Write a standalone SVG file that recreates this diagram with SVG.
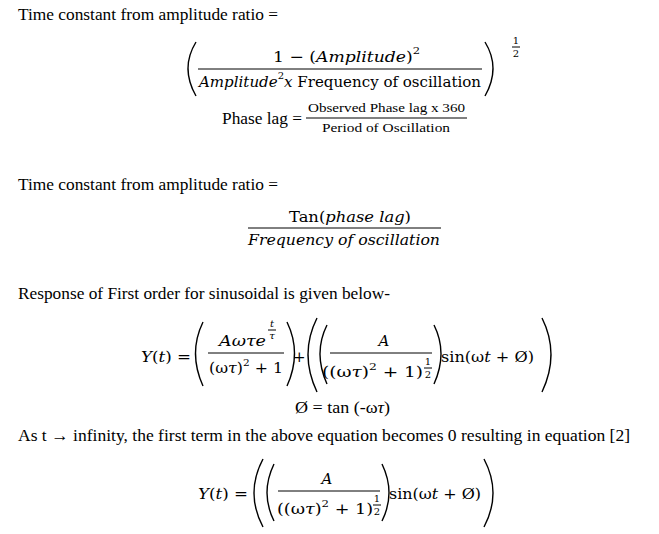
<svg xmlns="http://www.w3.org/2000/svg" width="659" height="534" viewBox="0 0 659 534">
<style>
text{font-family:"Liberation Serif","DejaVu Serif",serif;font-size:17px;fill:#000}
.m{font-family:"DejaVu Serif","Liberation Serif",serif;font-size:15px}
.i{font-style:italic}
.s{font-size:10px}
.sm{font-size:13px}
.c{text-anchor:middle}
.f{stroke:#000;stroke-width:1;fill:none}
.p{stroke:#000;stroke-width:1.4;fill:none}
</style>
<rect width="659" height="534" fill="#fff"/>
<g id="t1"><text x="18" y="20" textLength="260" lengthAdjust="spacingAndGlyphs">Time constant from amplitude ratio =</text></g>
<g id="eq1">
<text class="m" x="273" y="62" textLength="147" lengthAdjust="spacingAndGlyphs">1 − (<tspan class="i">Amplitude</tspan>)<tspan class="s" dy="-8">2</tspan></text>
<line class="f" x1="198" y1="69" x2="482" y2="69"/>
<text class="m" x="199" y="87" textLength="282" lengthAdjust="spacingAndGlyphs"><tspan class="i">Amplitude</tspan><tspan class="s" dy="-8">2</tspan><tspan class="i" dy="8">x</tspan> Frequency of oscillation</text>
<path class="p" d="M196,42 Q180,68 196,96"/><path class="p" d="M485,42 Q501,68 485,96"/>
<text class="s c m" x="516" y="44">1</text><line class="f" x1="512" y1="47" x2="520" y2="47"/><text class="s c m" x="516" y="57">2</text>
</g>
<g id="eq2">
<text x="222" y="124" textLength="80" lengthAdjust="spacingAndGlyphs">Phase lag =</text>
<text class="sm" x="308" y="112" textLength="157" lengthAdjust="spacingAndGlyphs">Observed Phase lag x 360</text>
<line class="f" x1="306" y1="118" x2="467" y2="118"/>
<text class="sm" x="322" y="132" textLength="128" lengthAdjust="spacingAndGlyphs">Period of Oscillation</text>
</g>
<g id="t2"><text x="18" y="190" textLength="260" lengthAdjust="spacingAndGlyphs">Time constant from amplitude ratio =</text></g>
<g id="eq3">
<text class="m" x="289" y="222" textLength="122" lengthAdjust="spacingAndGlyphs">Tan(<tspan class="i">phase lag</tspan>)</text>
<line class="f" x1="248" y1="228" x2="441" y2="228"/>
<text class="m i" x="248" y="245" textLength="192" lengthAdjust="spacingAndGlyphs">Frequency of oscillation</text>
</g>
<g id="t3"><text x="18" y="299" textLength="372" lengthAdjust="spacingAndGlyphs">Response of First order for sinusoidal is given below-</text></g>
<g id="eq4">
<text class="m" x="141" y="362" textLength="50" lengthAdjust="spacingAndGlyphs"><tspan class="i">Y</tspan>(<tspan class="i">t</tspan>) =</text>
<path class="p" d="M203,322 Q188,353 203,386"/>
<text class="m i" x="219" y="346" textLength="47" lengthAdjust="spacingAndGlyphs">Aωτe</text>
<text class="s c m i" x="272" y="327">t</text><line class="f" x1="268" y1="330" x2="276" y2="330"/><text class="s c m i" x="272" y="339">τ</text>
<line class="f" x1="208" y1="353" x2="284" y2="353"/>
<text class="m" x="209" y="373" textLength="74" lengthAdjust="spacingAndGlyphs">(ω<tspan class="i">τ</tspan>)<tspan class="s" dy="-7">2</tspan><tspan dy="7"> + 1</tspan></text>
<path class="p" d="M287,322 Q302,353 287,386"/>
<text class="m" x="293" y="362">+</text>
<path class="p" d="M317,318 Q299,354 317,392"/>
<path class="p" d="M327,325 Q313,353 327,384"/>
<text class="m c i" x="384" y="346">A</text>
<line class="f" x1="330" y1="353" x2="432" y2="353"/>
<text class="m" x="322" y="377" textLength="101" lengthAdjust="spacingAndGlyphs">((ω<tspan class="i">τ</tspan>)<tspan class="s" dy="-7">2</tspan><tspan dy="7"> + 1)</tspan></text>
<text class="s c m" x="428" y="365">1</text><line class="f" x1="424" y1="368" x2="432" y2="368"/><text class="s c m" x="428" y="378">2</text>
<path class="p" d="M434,325 Q448,353 434,384"/>
<text class="m" x="441" y="362" textLength="93" lengthAdjust="spacingAndGlyphs">sin(ω<tspan class="i">t</tspan> + Ø)</text>
<path class="p" d="M542,318 Q560,354 542,392"/>
</g>
<g id="eq5"><text x="295" y="413" textLength="95" lengthAdjust="spacingAndGlyphs">Ø = tan  (-ω<tspan class="i">τ</tspan>)</text></g>
<g id="t4"><text x="18" y="441" textLength="612" lengthAdjust="spacingAndGlyphs">As t → infinity, the first term in the above equation becomes 0 resulting in equation [2]</text></g>
<g id="eq6">
<text class="m" x="198" y="499" textLength="50" lengthAdjust="spacingAndGlyphs"><tspan class="i">Y</tspan>(<tspan class="i">t</tspan>) =</text>
<path class="p" d="M263,459 Q245,493 263,527"/>
<path class="p" d="M274,464 Q260,493 274,521"/>
<text class="m c i" x="327" y="484">A</text>
<line class="f" x1="278" y1="491" x2="380" y2="491"/>
<text class="m" x="277" y="514" textLength="96" lengthAdjust="spacingAndGlyphs">((ω<tspan class="i">τ</tspan>)<tspan class="s" dy="-7">2</tspan><tspan dy="7"> + 1)</tspan></text>
<text class="s c m" x="377" y="502">1</text><line class="f" x1="373" y1="505" x2="381" y2="505"/><text class="s c m" x="377" y="515">2</text>
<path class="p" d="M382,464 Q396,493 382,521"/>
<text class="m" x="389" y="499" textLength="92" lengthAdjust="spacingAndGlyphs">sin(ω<tspan class="i">t</tspan> + Ø)</text>
<path class="p" d="M484,459 Q502,493 484,527"/>
</g>
</svg>
